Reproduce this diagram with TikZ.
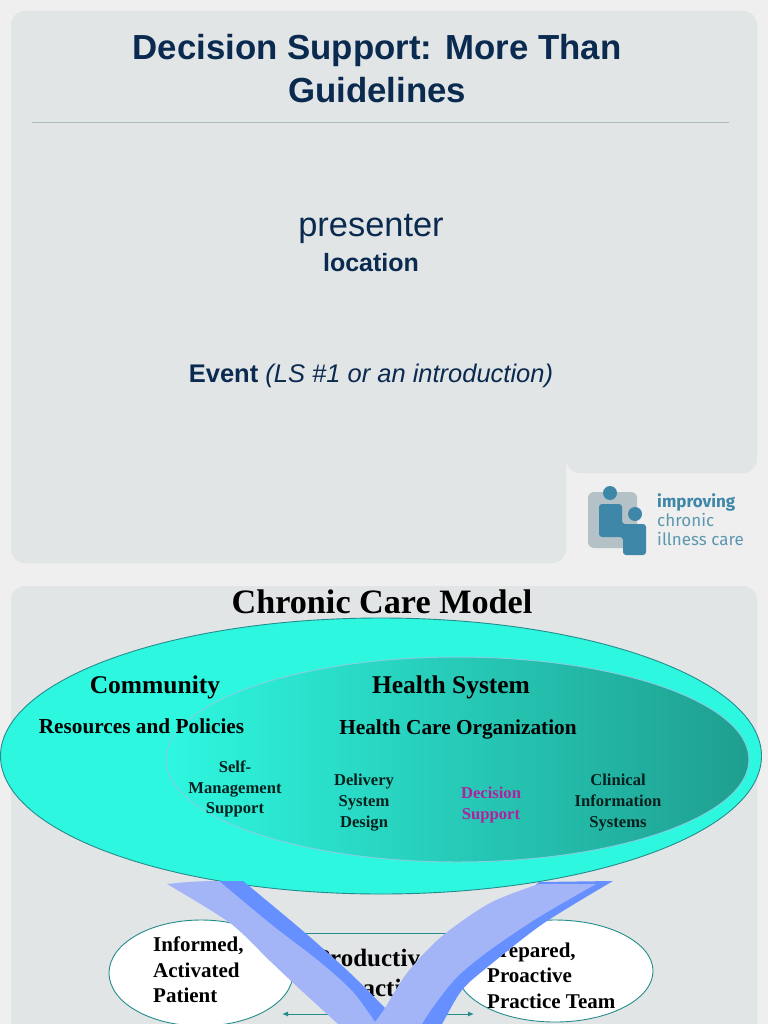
\documentclass[tikz,border=0pt]{standalone}
\usepackage{fontspec}
\setmainfont{Liberation Serif}
\setsansfont{Liberation Sans}
\newfontfamily\logofont{Fira Sans}
\usetikzlibrary{shapes.geometric,arrows.meta}
\definecolor{pagebg}{HTML}{EFEFEF}
\definecolor{panel}{HTML}{E1E5E6}
\definecolor{navy}{HTML}{0B2A4F}
\definecolor{rulec}{HTML}{A9BDBC}
\definecolor{aqua}{HTML}{2EF7E0}
\definecolor{deepteal}{HTML}{1F9E8F}
\definecolor{edgeteal}{HTML}{258C8C}
\definecolor{innerline}{HTML}{7FD0E0}
\definecolor{lightblue}{HTML}{A3B5F7}
\definecolor{darkblue}{HTML}{6690FF}
\definecolor{magtext}{HTML}{B0209F}
\definecolor{logoblue}{HTML}{3F87A9}
\definecolor{logogray}{HTML}{B4C2C8}
\definecolor{logotext}{HTML}{5C97B0}
\tikzset{
  sans/.style={font=\sffamily\fontsize{#1}{43}\selectfont,text=navy,inner sep=0pt,align=center},
  sansb/.style={font=\sffamily\bfseries\fontsize{#1}{43}\selectfont,text=navy,inner sep=0pt,align=center},
  head/.style={font=\bfseries\fontsize{#1}{#1}\selectfont,text=black,inner sep=0pt,align=center},
  small/.style={font=\bfseries\fontsize{16.6}{20.8}\selectfont,text=black!80!deepteal,inner sep=0pt,align=center},
  lower/.style={font=\bfseries\fontsize{21}{25.5}\selectfont,text=black,inner sep=0pt,align=left,anchor=west},
  oval/.style={ellipse,draw=edgeteal,line width=0.9pt,inner sep=0pt},
  logotxt/.style={font=\logofont\fontsize{17}{17}\selectfont,inner sep=0pt,anchor=west},
}
\begin{document}
\begin{tikzpicture}[x=1pt,y=-1pt]
\useasboundingbox (0,0) rectangle (768,1024);
\clip (0,0) rectangle (768,1024);
\fill[pagebg] (0,0) rectangle (768,1024);
% panels
\fill[panel,rounded corners=14pt] (11,11) -- (757,11) -- (757,473) -- (566,473) [sharp corners] -- (566,473) [rounded corners=14pt] -- (566,563) -- (11,563) -- cycle;
\fill[panel,rounded corners=14pt] (11,586) -- (757,586) -- (757,1060) -- (11,1060) -- cycle;
% title slide
\node[sansb=34.8] (title) at (377,68.5) {Decision Support: More Than\\Guidelines};
\coordinate (ruleL) at (32,122);
\coordinate (ruleR) at (729,122);
\draw[rulec,line width=0.7pt] (ruleL) -- (ruleR);
\node[sans=34.4] (presenter) at (371,229) {presenter};
\node[sansb=25] (location) at (371,263) {location};
\node[sans=25.5] (event) at (371,376) {\textbf{Event} \textit{(LS \#1 or an introduction)}};
% logo
\fill[logogray,rounded corners=6pt] (588,492) rectangle (637,548);
\fill[logoblue,rounded corners=3pt] (599,504) -- (622,504) -- (622,524) -- (646,524) -- (646,555) -- (623,555) -- (623,537) -- (599,537) -- cycle;
\fill[logoblue] (610,493) circle (7);
\fill[logoblue] (635,514) circle (7);
\node[logotxt,text=logoblue,font=\logofont\bfseries\fontsize{17}{17}\selectfont] (lg1) at (657,502) {improving};
\node[logotxt,text=logotext] (lg2) at (657,520) {chronic};
\node[logotxt,text=logotext] (lg3) at (657,539) {illness care};
% model slide
\node[head=34.2] (ccm) at (382,602) {Chronic Care Model};
% lower row
\node[oval,fill=white,minimum width=184pt,minimum height=106pt] (patient) at (201,973) {};
\node[oval,fill=white,minimum width=196pt,minimum height=102pt] (team) at (555,971) {};
\coordinate (intL) at (305,933);
\coordinate (intR) at (450,933);
\draw[edgeteal,line width=0.9pt] (intL) -- (intR);
\node[lower] (ptext) at (153,970) {Informed,\\Activated\\Patient};
\node[lower] (ttext) at (487,975.5) {Prepared,\\Proactive\\Practice Team};
\node[font=\bfseries\fontsize{25}{30}\selectfont,inner sep=0pt,align=center] (itext) at (373,973) {Productive\\Interactions};
\coordinate (arrL) at (282,1014);
\coordinate (arrR) at (474,1014);
\draw[edgeteal,line width=0.9pt,{Latex[length=6pt,width=5pt]}-{Latex[length=6pt,width=5pt]}] (arrL) -- (arrR);
% big ellipses
\node[oval,fill=aqua,minimum width=761pt,minimum height=276pt] (outer) at (381,756) {};
\node[ellipse,draw=innerline,line width=1pt,left color=aqua,right color=deepteal,minimum width=583pt,minimum height=205pt,inner sep=0pt] (inner) at (457.5,759.5) {};
\node[head=25.5] (comm) at (155,687) {Community};
\node[head=25.5] (hs) at (451,687) {Health System};
\node[head=21.3] (rp) at (141.5,726) {Resources and Policies};
\node[head=21.3] (hco) at (458,729) {Health Care Organization};
\node[small] (sms) at (235,789) {Self-\\Management\\Support};
\node[small] (dsd) at (364,802.5) {Delivery\\System\\Design};
\node[small,text=magtext] (ds) at (491,805) {Decision\\Support};
\node[small] (cis) at (618,802.5) {Clinical\\Information\\Systems};
% check mark
\fill[darkblue] plot[smooth,tension=0.5] coordinates {(243,881) (303,931) (350,973) (385,1008)} -- (375,1030) -- (219,881) -- cycle;
\fill[lightblue] (167,884) .. controls (185,882) and (200,881) .. (219,881)
  -- plot[smooth,tension=0.5] coordinates {(219,881) (272,925) (320,962) (353,992) (375,1022)}
  -- (375,1040) -- (350,1040) -- plot[smooth,tension=0.5] coordinates {(338,1024) (303,992) (270,961) (230,923) (167,884)} -- cycle;
\fill[darkblue] plot[smooth,tension=0.5] coordinates {(613,881) (544,923) (490,965) (462,990) (442,1024) (432,1040)} -- (405,1040) -- (436,980) -- (539,882) -- cycle;
\fill[lightblue] plot[smooth,tension=0.5] coordinates {(596,884) (539,917) (490,950) (457,977) (433,1007) (422,1024) (412,1040)}
  -- (370,1040) -- plot[smooth,tension=0.5] coordinates {(375,1022) (385,1008) (407,973) (441,937) (490,903) (539,884)} -- cycle;
\end{tikzpicture}
\end{document}
